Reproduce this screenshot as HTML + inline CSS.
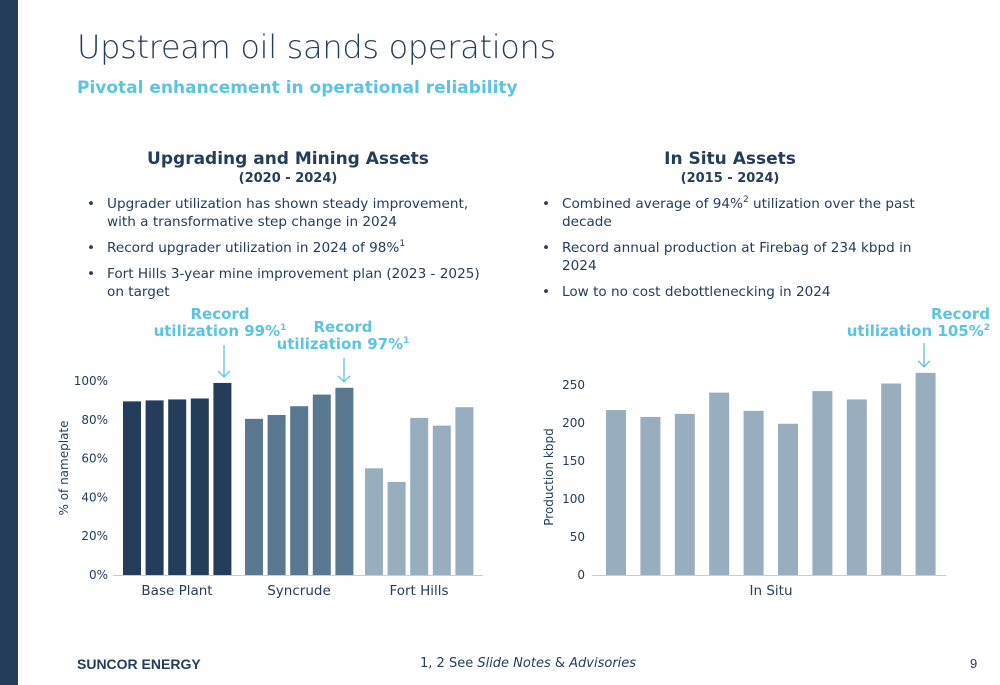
<!DOCTYPE html>
<html><head><meta charset="utf-8"><style>
body{margin:0;width:1000px;height:685px;position:relative;background:#fff;font-family:"Liberation Sans","DejaVu Sans",sans-serif;color:#233d5a;overflow:hidden}
.abs{position:absolute}
ul{margin:0;padding:0;list-style:none}
li{position:relative;padding-left:24px;font-family:"DejaVu Sans",sans-serif;font-size:13.6px;line-height:18px;margin-bottom:8px;color:#233d5a}
li:before{content:"•";position:absolute;left:4px}
sup{font-size:9px;line-height:0;vertical-align:6px}
.hd{font-weight:bold;text-align:center;font-size:17px;line-height:19px;font-family:"DejaVu Sans",sans-serif}
.hd span{font-size:13px;display:block}
.ann{color:#5bc4e0;font-weight:bold;font-size:15px;line-height:17px;text-align:center;font-family:"DejaVu Sans",sans-serif}
svg text{font-family:"DejaVu Sans",sans-serif;fill:#233d5a}
</style></head><body>
<div class="abs" style="left:0;top:0;width:18px;height:685px;background:#233d5a"></div>
<div class="abs" style="left:77px;top:28px;font-size:32px;font-family:'DejaVu Sans',sans-serif;font-weight:200;letter-spacing:-0.3px">Upstream oil sands operations</div>
<div class="abs" style="left:77px;top:78px;font-size:17px;font-weight:bold;color:#5bc4e0;font-family:'DejaVu Sans',sans-serif">Pivotal enhancement in operational reliability</div>
<div class="abs hd" style="left:128px;top:150px;width:320px">Upgrading and Mining Assets<span>(2020 - 2024)</span></div>
<div class="abs hd" style="left:600px;top:150px;width:260px">In Situ Assets<span>(2015 - 2024)</span></div>
<ul class="abs" style="left:83px;top:195px;width:412px">
<li>Upgrader utilization has shown steady improvement, with a transformative step change in 2024</li>
<li>Record upgrader utilization in 2024 of 98%<sup>1</sup></li>
<li>Fort Hills 3-year mine improvement plan (2023 - 2025) on target</li></ul>
<ul class="abs" style="left:538px;top:195px;width:400px">
<li>Combined average of 94%<sup>2</sup> utilization over the past decade</li>
<li>Record annual production at Firebag of 234 kbpd in 2024</li>
<li>Low to no cost debottlenecking in 2024</li></ul>
<div class="abs ann" style="left:150px;top:306px;width:140px">Record<br>utilization 99%<sup>1</sup></div>
<div class="abs ann" style="left:273px;top:319px;width:140px">Record<br>utilization 97%<sup>1</sup></div>
<div class="abs ann" style="left:830px;top:306px;width:160px;text-align:right">Record<br>utilization 105%<sup>2</sup></div>
<svg class="abs" style="left:0;top:0" width="1000" height="685" id="svg"></svg>
<div class="abs" style="left:77px;top:656px;font-size:14px;font-weight:bold">SUNCOR ENERGY</div>
<div class="abs" style="left:420px;top:656px;font-size:13px;font-family:'DejaVu Sans',sans-serif">1, 2 See <i>Slide Notes</i> &amp; <i>Advisories</i></div>
<div class="abs" style="left:970px;top:656px;font-size:13px">9</div>
<script>
const leftGroups=["Base Plant","Syncrude","Fort Hills"];
const basePlant=[89.5,90,90.5,91,99];
const syncrude=[80.5,82.5,87,93,96.5];
const fortHills=[55,48,81,77,86.5];
const leftTicks=[0,20,40,60,80,100];
const inSitu=[217,208,212,240,216,199,242,231,252,266];
const rightTicks=[0,50,100,150,200,250];
const NS="http://www.w3.org/2000/svg";
const svg=document.getElementById('svg');
function mk(t,a,txt){const e=document.createElementNS(NS,t);for(const k in a)e.setAttribute(k,a[k]);if(txt!=null)e.textContent=txt;svg.appendChild(e);return e;}
const ly=v=>575-v*1.94;
leftTicks.forEach(t=>{const e=mk('text',{x:108,y:ly(t)+4,'text-anchor':'end','font-size':12},t+'%');

});
mk('line',{x1:113,x2:483,y1:575.5,y2:575.5,stroke:'#ccc'});
const gStart=[123,245,365],cols=['#233d5a','#5a7890','#98aebe'];
[basePlant,syncrude,fortHills].forEach((s,g)=>{s.forEach((v,i)=>{const r=mk('rect',{x:gStart[g]+i*22.6,y:ly(v),width:18,height:575-ly(v),fill:cols[g]});

});
const l=mk('text',{x:gStart[g]+54,y:595,'text-anchor':'middle','font-size':13.5},leftGroups[g]);

});
const lt=mk('text',{x:0,y:0,'font-size':12,'text-anchor':'middle',transform:'translate(68,468) rotate(-90)'},'% of nameplate');


function arrow(x,y1,y2,n){const g=mk('path',{d:`M${x} ${y1}V${y2}M${x-6} ${y2-6}L${x} ${y2}L${x+6} ${y2-6}`,stroke:'#5bc4e0','stroke-width':1.3,fill:'none'});

}
arrow(224,345,ly(basePlant[4])-6,'arrow-base-plant');
arrow(344,358,ly(syncrude[4])-6,'arrow-syncrude');
const ry=v=>575-v*0.76;
rightTicks.forEach(t=>{const e=mk('text',{x:585,y:ry(t)+4,'text-anchor':'end','font-size':12},t);

});
mk('line',{x1:592,x2:946,y1:575.5,y2:575.5,stroke:'#ccc'});
inSitu.forEach((v,i)=>{const r=mk('rect',{x:606+i*34.4,y:ry(v),width:20,height:575-ry(v),fill:'#98aebe'});

});
const rl=mk('text',{x:771,y:595,'text-anchor':'middle','font-size':13.5},'In Situ');


const rt=mk('text',{x:0,y:0,'font-size':12,'text-anchor':'middle',transform:'translate(553,477) rotate(-90)'},'Production kbpd');


arrow(924,343,ry(inSitu[9])-6,'arrow-in-situ');
</script>
</body></html>
